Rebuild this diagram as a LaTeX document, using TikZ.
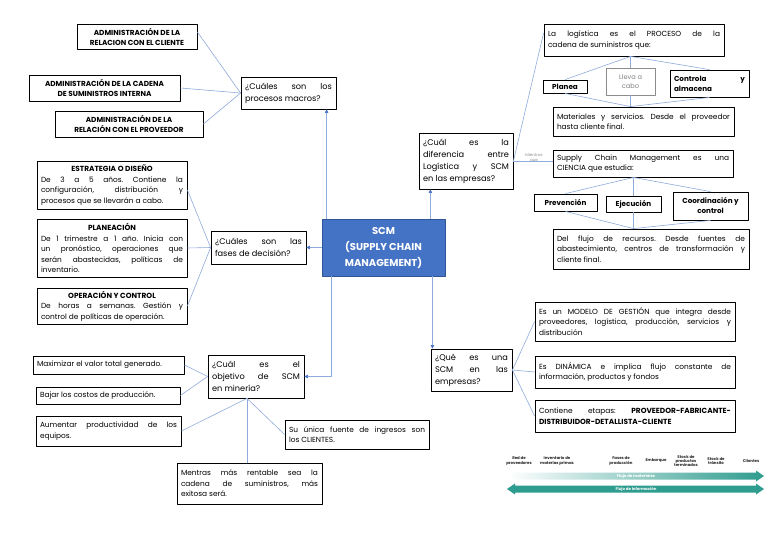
\documentclass[tikz,border=0pt]{standalone}
\usepackage{fontspec}
\setmainfont{Poppins}
\usetikzlibrary{arrows.meta}
\definecolor{lineblue}{HTML}{8FAADC}
\definecolor{tipblue}{HTML}{4472C4}
\definecolor{scmblue}{HTML}{4472C4}
\definecolor{scmedge}{HTML}{2F5597}
\definecolor{flowteal}{HTML}{2E9C8E}
\tolerance=10000 \hbadness=10000 \hyphenpenalty=10000 \exhyphenpenalty=10000
\frenchspacing
\newcommand{\boxtitle}[1]{\hfill\textbf{#1}\hfill\null\linebreak}
\begin{document}
\begin{tikzpicture}[x=1pt,y=-1pt,line join=round,
	box/.style={draw,line width=0.8pt,inner xsep=4pt,inner ysep=1pt,align=justify,font=\fontsize{7.4}{10.5}\selectfont},
	caps/.style={box,align=center,font=\fontsize{7.3}{10}\selectfont\bfseries},
	ask/.style={box,font=\fontsize{8.2}{12}\selectfont},
	tiny/.style={box,align=center,font=\fontsize{7.2}{10}\selectfont\bfseries},
	link/.style={draw=lineblue,line width=0.6pt},
	arr/.style={link,-{Triangle[length=3.5pt,width=3.5pt,color=tipblue]}},
	tag/.style={font=\fontsize{3.9}{4.4}\selectfont\bfseries,align=center,text=black!85}]
	\useasboundingbox (0,0) rectangle (768,544);
	% centro
	\node[draw=scmedge,fill=scmblue,line width=0.8pt,text=white,align=center,minimum width=123pt,minimum height=57pt,font=\fontsize{10}{16}\selectfont\bfseries] (scm) at (383.5,247.5) {SCM\\(SUPPLY CHAIN\\MANAGEMENT)};
	% procesos macros
	\node[ask,text width=87pt,minimum height=32pt] (mac) at (288.5,93) {¿Cuáles son los \linebreak procesos macros?};
	\node[caps,minimum width=120pt,minimum height=25pt] (cli) at (137,36.5) {ADMINISTRACIÓN DE LA\\RELACION CON EL CLIENTE};
	\node[caps,minimum width=151pt,minimum height=26pt] (cad) at (104.5,88) {ADMINISTRACIÓN DE LA CADENA\\DE SUMINISTROS INTERNA};
	\node[caps,minimum width=148pt,minimum height=26pt] (pro) at (129,124) {ADMINISTRACIÓN DE LA\\RELACIÓN CON EL PROVEEDOR};
	% fases de decision
	\node[ask,text width=87pt,minimum height=33pt] (fas) at (258.5,247.5) {¿Cuáles son las \linebreak fases de decisión?};
	\node[box,text width=142pt,minimum height=48pt] (est) at (112,185) {\boxtitle{ESTRATEGIA O DISEÑO}De 3 a 5 años. Contiene la \linebreak configuración, distribución y \linebreak procesos que se llevarán a cabo.};
	\node[box,text width=142pt,minimum height=58pt] (pla) at (112,248) {\boxtitle{PLANEACIÓN}De 1 trimestre a 1 año. Inicia con \linebreak un pronóstico, operaciones que \linebreak serán abastecidas, políticas de \linebreak inventario.};
	\node[box,text width=142pt,minimum height=36pt] (ope) at (112,306) {\boxtitle{OPERACIÓN Y CONTROL}De horas a semanas. Gestión y \linebreak control de políticas de operación.};
	% objetivo
	\node[ask,text width=88pt,minimum height=43pt] (obj) at (256,376.5) {¿Cuál es el \linebreak objetivo de SCM \linebreak en minería?};
	\node[box,text width=143pt,minimum height=18pt] (max) at (108.5,365) {Maximizar el valor total generado.};
	\node[box,text width=136pt,minimum height=17pt] (baj) at (108,395.5) {Bajar los costos de producción.};
	\node[box,text width=137pt,minimum height=30pt] (aum) at (108.5,431) {Aumentar productividad de los \linebreak equipos.};
	\node[box,text width=136pt,minimum height=29pt] (uni) at (357,434.5) {Su única fuente de ingresos son \linebreak los CLIENTES.};
	\node[box,text width=137pt,minimum height=41pt] (ren) at (249.5,483.5) {Mentras más rentable sea la \linebreak cadena de suministros, más \linebreak exitosa será.};
	% diferencia
	\node[ask,text width=86pt,minimum height=56pt] (dif) at (466,161) {¿Cuál es la \linebreak diferencia entre \linebreak Logística y SCM \linebreak en las empresas?};
	\node[box,text width=172pt,minimum height=32pt] (log) at (634,40) {La logística es el PROCESO de la \linebreak cadena de suministros que:};
	\node[tiny,minimum width=44pt,minimum height=13pt] (pln) at (565,86.5) {Planea};
	\node[box,draw=black!45,text=black!50,align=center,minimum width=49pt,minimum height=27pt,font=\fontsize{6.6}{9}\selectfont] (lle) at (630.5,81.5) {Lleva a\\cabo};
	\node[tiny,align=justify,text width=71pt,minimum height=27pt] (con) at (709.5,83.5) {Controla y \linebreak almacena};
	\node[box,text width=173pt,minimum height=29pt] (mat) at (643.5,121.5) {Materiales y servicios. Desde el proveedor \linebreak hasta cliente final.};
	\node[box,text width=172pt,minimum height=27pt] (cie) at (643,163.5) {Supply Chain Management es una \linebreak CIENCIA que estudia:};
	\node[tiny,minimum width=63pt,minimum height=17pt] (pre) at (565.5,202.5) {Prevención};
	\node[tiny,minimum width=55pt,minimum height=16pt] (eje) at (633.5,204) {Ejecución};
	\node[tiny,minimum width=75pt,minimum height=28pt] (coo) at (710.5,206) {Coordinación y\\control};
	\node[box,text width=188pt,minimum height=40pt] (flu) at (651,249) {Del flujo de recursos. Desde fuentes de \linebreak abastecimiento, centros de transformación y \linebreak cliente final.};
	\node[font=\fontsize{4}{4.6}\selectfont,text=black!45,align=center] (mq) at (534,158) {Mientras\\que};
	% que es una SCM
	\node[ask,text width=73pt,minimum height=42pt] (que) at (471.5,370) {¿Qué es una \linebreak SCM en las \linebreak empresas?};
	\node[box,text width=192pt,minimum height=39pt] (mod) at (635,321.5) {Es un MODELO DE GESTIÓN que integra desde \linebreak proveedores, logística, producción, servicios y \linebreak distribución};
	\node[box,text width=192pt,minimum height=32pt] (din) at (635,372) {Es DINÁMICA e implica flujo constante de \linebreak información, productos y fondos};
	\node[box,text width=192pt,minimum height=32pt] (eta) at (635,416) {Contiene etapas: \textbf{PROVEEDOR-FABRICANTE-} \linebreak \textbf{DISTRIBUIDOR-DETALLISTA-CLIENTE}};
	% flechas desde SCM
	\draw[arr] ([xshift=5pt]scm.north west) -- ([xshift=5pt]scm.north west |- mac.south);
	\draw[arr] (scm.west) -- (fas.east);
	\draw[arr] ([xshift=10pt]scm.south west) |- (obj.east);
	\draw[arr] ([xshift=-15pt]scm.north east) -- ([xshift=-15pt]scm.north east |- dif.south);
	\draw[arr] ([xshift=-13pt]scm.south east) -- ([xshift=-13pt]scm.south east |- que.north);
	% ramas
	\foreach \n/\s in {cli/4.5,cad/0,pro/0}\draw[link] ([yshift=\s pt]\n.east) -- (mac.west);
	\foreach \n/\s in {est/-5,pla/0,ope/0}\draw[link] ([yshift=\s pt]\n.east) -- (fas.west);
	\foreach \n in {max,baj}\draw[link] (\n.east) -- (obj.west);
	\coordinate (ob) at ([xshift=-9pt]obj.south);
	\draw[link] (ob) -- (aum.east);
	\draw[link] (ob) -- (ob |- ren.north);
	\draw[link] (ob) -- (uni.west);
	\draw[link] (dif.east) -- ([yshift=7pt]log.west);
	\draw[link] (dif.east) -- (dif.east -| cie.west);
	\foreach \n in {pln,lle,con}\draw[link] (lle |- log.south) -- (\n.north);
	\foreach \n in {pln,lle,con}\draw[link] (lle |- mat.north) -- (\n.south);
	\foreach \n in {pre,eje,coo}\draw[link] (eje |- cie.south) -- (\n.north);
	\foreach \n in {pre,eje,coo}\draw[link] (eje |- flu.north) -- (\n.south);
	\foreach \n in {mod,din,eta}\draw[link] (que.east) -- (\n.west);
	% cadena de suministro
	\foreach \x/\t [count=\i] in {519/{Red de\\proveedores},557/{Inventario de\\materias primas},621/{Fases de\\producción},656/{Embarque},686/{Stock de\\productos\\terminados},716/{Stock de\\tránsito},751/{Clientes}}
		\node[tag] (st\i) at (\x,461) {\t};
	\shade[left color=white,right color=flowteal] (508,472.5) -- (756,472.5) -- (756,470.5) -- (764,476) -- (756,481.5) -- (756,479.5) -- (508,479.5) -- cycle;
	\fill[flowteal] (507,489) -- (515,483.5) -- (515,485.5) -- (756,485.5) -- (756,483.5) -- (764,489) -- (756,494.5) -- (756,492.5) -- (515,492.5) -- (515,494.5) -- cycle;
	\node[tag,text=white] (fm) at (636,476) {Flujo de materiales};
	\node[tag,text=white] (fi) at (636,489) {Flujo de información};
\end{tikzpicture}
\end{document}
